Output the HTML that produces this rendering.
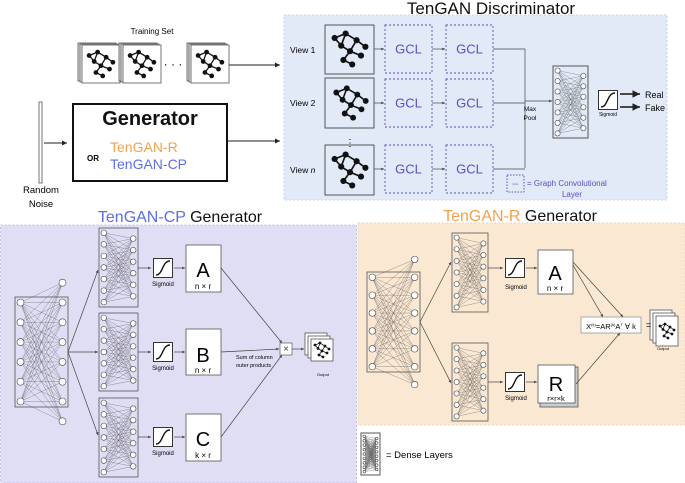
<!DOCTYPE html>
<html><head><meta charset="utf-8"><style>
body{margin:0;background:#fff}
svg{display:block;font-family:"Liberation Sans",sans-serif}
</style></head><body>
<svg id="s" width="685" height="483" viewBox="0 0 685 483" xmlns="http://www.w3.org/2000/svg">
<defs>
<marker id="ah" markerWidth="6" markerHeight="6" refX="5" refY="3" orient="auto"><path d="M0,0.5 L5,3 L0,5.5z" fill="#222"/></marker>
<marker id="ahs" markerWidth="5" markerHeight="5" refX="4" refY="2.5" orient="auto"><path d="M0,0.5 L4,2.5 L0,4.5z" fill="#444"/></marker>
<symbol id="g" viewBox="0 0 40 40">
<g stroke="#111" stroke-width="1.5" fill="none">
<path d="M6,10 L16,6 L12,17 L6,10 M16,6 L26,12 L34,18 M12,17 L20,22 L26,12 M20,22 L14,30 L22,34 M20,22 L30,26"/>
</g>
<g fill="#111"><circle cx="6" cy="10" r="2.8"/><circle cx="16" cy="6" r="2.8"/><circle cx="12" cy="17" r="2.8"/><circle cx="26" cy="12" r="2.8"/><circle cx="34" cy="18" r="2.8"/><circle cx="20" cy="22" r="2.8"/><circle cx="14" cy="30" r="2.8"/><circle cx="22" cy="34" r="2.8"/><circle cx="30" cy="26" r="2.8"/></g>
</symbol>
<symbol id="sig" viewBox="0 0 20 20"><rect x="0.5" y="0.5" width="19" height="19" fill="#fff" stroke="#333"/><path d="M3,17 C10,17 9,3 17,3" stroke="#111" stroke-width="1.4" fill="none"/></symbol>
</defs>

<rect x="284" y="15" width="383" height="185" fill="#e3eaf7" stroke="#c8d2e8" stroke-dasharray="2,2"/>
<rect x="0.5" y="225" width="356" height="258" fill="#e0def5" stroke="#c4c0e6" stroke-dasharray="2,2"/>
<rect x="358" y="223" width="327" height="202" fill="#fbe8d3" stroke="#efd6bb" stroke-dasharray="2,2"/>

<text x="491" y="14" font-size="17" text-anchor="middle" fill="#111">TenGAN Discriminator</text>
<text x="180" y="222" font-size="16" text-anchor="middle"><tspan fill="#5b6ee8">TenGAN-CP</tspan><tspan fill="#111"> Generator</tspan></text>
<text x="520" y="221" font-size="16" text-anchor="middle"><tspan fill="#f5a04c">TenGAN-R</tspan><tspan fill="#111"> Generator</tspan></text>

<text x="152" y="34" font-size="8" text-anchor="middle">Training Set</text>
<g id="cards"></g>
<text x="173" y="68" font-size="12" text-anchor="middle">· · ·</text>
<line x1="229" y1="65" x2="280" y2="65" stroke="#222" marker-end="url(#ah)"/>

<rect x="39" y="102" width="3" height="81" fill="#fff" stroke="#555" stroke-width="0.8"/>
<text x="41" y="193" font-size="9.5" text-anchor="middle">Random</text>
<text x="41" y="207" font-size="9.5" text-anchor="middle">Noise</text>
<line x1="44" y1="143" x2="67" y2="143" stroke="#222" marker-end="url(#ah)"/>
<rect x="73" y="104" width="154" height="77" fill="#fff" stroke="#111" stroke-width="2"/>
<text x="150" y="125" font-size="20" text-anchor="middle" font-weight="bold" fill="#111">Generator</text>
<text x="87" y="161" font-size="8" font-weight="bold">OR</text>
<text x="110" y="152" font-size="14" fill="#f5a04c">TenGAN-R</text>
<text x="110" y="169" font-size="14" fill="#5b6ee8">TenGAN-CP</text>
<line x1="227" y1="141" x2="280" y2="141" stroke="#222" marker-end="url(#ah)"/>

<text x="290" y="53" font-size="8.5">View 1</text>
<text x="290" y="106" font-size="8.5">View 2</text>
<text x="290" y="173" font-size="8.5">View <tspan font-style="italic">n</tspan></text>
<rect x="325" y="25" width="49" height="49" fill="#e3eaf7" stroke="#555"/>
<rect x="325" y="78" width="49" height="50" fill="#e3eaf7" stroke="#555"/>
<rect x="325" y="145" width="49" height="50" fill="#e3eaf7" stroke="#555"/>
<use href="#g" x="328" y="27" width="44" height="44"/>
<use href="#g" x="330" y="81" width="42" height="44"/>
<use href="#g" x="328" y="148" width="44" height="44"/>
<text x="350" y="146" font-size="10" text-anchor="middle">⋮</text>
<g id="gcl"></g>
<text x="530" y="111" font-size="6.5" text-anchor="middle">Max</text>
<text x="530" y="120" font-size="6.5" text-anchor="middle">Pool</text>
<rect x="553" y="66" width="35" height="72" fill="#e3eaf7" stroke="#555"/>
<g id="dn0"></g>
<use href="#sig" x="598" y="90" width="20" height="20"/>
<text x="608" y="116" font-size="5" text-anchor="middle">Sigmoid</text>
<line x1="620" y1="94" x2="640" y2="94" stroke="#111" stroke-width="1.5" marker-end="url(#ah)"/>
<line x1="620" y1="107" x2="640" y2="107" stroke="#111" stroke-width="1.5" marker-end="url(#ah)"/>
<text x="645" y="98" font-size="9">Real</text>
<text x="645" y="111" font-size="9">Fake</text>
<rect x="507" y="175" width="17" height="17" fill="none" stroke="#5a4fc4" stroke-dasharray="1.5,1.5"/>
<text x="515.5" y="185" font-size="3" fill="#5a4fc4" text-anchor="middle">GCL</text>
<text x="527" y="186" font-size="8" fill="#5a4fc4">= Graph Convolutional</text>
<text x="572" y="197" font-size="8" fill="#5a4fc4" text-anchor="middle">Layer</text>

<g id="cp"></g>
<text x="236" y="359" font-size="5.5">Sum of column</text>
<text x="236" y="367" font-size="5.5">outer products</text>
<rect x="280" y="343" width="12" height="12" fill="#fff" stroke="#444" stroke-width="0.6"/>
<text x="286" y="352" font-size="10" text-anchor="middle" fill="#444">×</text>
<text x="323" y="376" font-size="4" text-anchor="middle">Output</text>

<g id="rg"></g>
<rect x="581" y="317" width="60" height="16" fill="#fff" stroke="#777" stroke-width="0.6"/>
<text x="611" y="329" font-size="7.5" text-anchor="middle">X<tspan font-size="4" dy="-3">(k)</tspan><tspan dy="3">=AR</tspan><tspan font-size="4" dy="-3">(k)</tspan><tspan dy="3">A</tspan><tspan font-size="4" dy="-3">T</tspan><tspan dy="3"> ∀ k</tspan></text>
<text x="646" y="328" font-size="9">=</text>
<text x="663" y="350" font-size="4" text-anchor="middle">Output</text>

<rect x="361" y="433" width="19" height="42" fill="#fff" stroke="#555"/>
<g id="dnleg"></g>
<text x="386" y="458" font-size="9.5">= Dense Layers</text>

<g>
<text x="203" y="277" font-size="20" text-anchor="middle">A</text>
<text x="203" y="289" font-size="8" text-anchor="middle">n × r</text>
<text x="203" y="362" font-size="20" text-anchor="middle">B</text>
<text x="203" y="373" font-size="8" text-anchor="middle">n × r</text>
<text x="203" y="446" font-size="20" text-anchor="middle">C</text>
<text x="203" y="458" font-size="8" text-anchor="middle">k × r</text>
<text x="163" y="286" font-size="6" text-anchor="middle">Sigmoid</text>
<text x="163" y="370" font-size="6" text-anchor="middle">Sigmoid</text>
<text x="163" y="455" font-size="6" text-anchor="middle">Sigmoid</text>
<text x="555" y="280" font-size="20" text-anchor="middle">A</text>
<text x="555" y="291" font-size="8" text-anchor="middle">n × r</text>
<text x="556" y="391" font-size="20" text-anchor="middle">R</text>
<text x="556" y="401" font-size="7.5" text-anchor="middle">r×r×k</text>
<text x="516" y="289" font-size="6" text-anchor="middle">Sigmoid</text>
<text x="516" y="400" font-size="6" text-anchor="middle">Sigmoid</text>
</g>
</svg>
<script>
var NS="http://www.w3.org/2000/svg";
function el(p,t,a){var e=document.createElementNS(NS,t);for(var k in a)e.setAttribute(k,a[k]);p.appendChild(e);return e;}
function G(id){return document.getElementById(id);}
function dense(p,x,y,w,h,nl,nr,r){
  var L=[],R=[],i,j;
  for(i=0;i<nl;i++)L.push([x+r+2,y+r+2+i*(h-2*r-4)/(nl-1)]);
  var pad=(h-(h-2*r-4)*(nr-1)/(nl-1))/2;
  for(i=0;i<nr;i++)R.push([x+w-r-2,y+pad+i*(h-2*pad)/(nr-1)]);
  var d='';
  for(i=0;i<nl;i++)for(j=0;j<nr;j++)d+='M'+L[i][0]+','+L[i][1]+'L'+R[j][0]+','+R[j][1];
  el(p,'path',{d:d,stroke:'#555','stroke-width':0.3,fill:'none'});
  L.concat(R).forEach(function(c){el(p,'circle',{cx:c[0],cy:c[1],r:r,fill:'#fff',stroke:'#444','stroke-width':0.6});});
}
function line(p,x1,y1,x2,y2){el(p,'line',{x1:x1,y1:y1,x2:x2,y2:y2,stroke:'#444','stroke-width':0.7,'marker-end':'url(#ahs)'});}
function box(p,x,y,w,h,f){el(p,'rect',{x:x,y:y,width:w,height:h,fill:f||'#fff',stroke:'#555','stroke-width':0.8});}
function sig(p,x,y){el(p,'use',{href:'#sig',x:x,y:y,width:20,height:20});}
var c=G('cards');
[[78,43],[119,43],[187,43]].forEach(function(q){
  box(c,q[0],q[1],38,38,'#ddd');box(c,q[0]+2,q[1]+1,38,38,'#eee');box(c,q[0]+4,q[1]+2,38,38,'#fff');
  el(c,'use',{href:'#g',x:q[0]+6,y:q[1]+4,width:34,height:34});
});
var g=G('gcl');
[25,79,145].forEach(function(y){
  var cy=y+24;
  line(g,374,cy,384,cy);
  [385,446].forEach(function(x){
    el(g,'rect',{x:x,y:y,width:47,height:48,fill:'none',stroke:'#5a4fc4','stroke-dasharray':'2,2','stroke-width':0.9});
    var t=el(g,'text',{x:x+23.5,y:cy+4.5,'font-size':13,'text-anchor':'middle',fill:'#5a4fc4'});t.textContent='GCL';
  });
  line(g,432,cy,445,cy);
  el(g,'path',{d:'M493,'+cy+'H525',stroke:'#444','stroke-width':0.7,fill:'none'});
});
el(g,'path',{d:'M525,49V168',stroke:'#444','stroke-width':0.7});
line(g,525,101,552,101);
dense(G('dn0'),553,66,35,72,7,6,2.6);
var cp=G('cp');
box(cp,15,297,53,110,'none');dense(cp,15,297,53,110,6,8,3.5);
[[228,307,268],[313,391,352],[398,477,437]].forEach(function(b,i){
  box(cp,99,b[0],39,b[1]-b[0],'none');dense(cp,99,b[0],39,b[1]-b[0],7,6,2.8);
  line(cp,68,352,98,i==0?270:(i==1?352:435));
  line(cp,138,b[2],151,b[2]);sig(cp,153,b[2]-10);line(cp,174,b[2],185,b[2]);
});
box(cp,186,245,35,47);box(cp,186,329,35,46);box(cp,186,414,35,47);
line(cp,221,268,282,343);line(cp,221,352,279,349);line(cp,221,437,282,355);
line(cp,292,349,304,349);
box(cp,305,333,22,22);box(cp,308,336,22,22);box(cp,311,339,22,22);
el(cp,'use',{href:'#g',x:312,y:340,width:20,height:20});
var r=G('rg');
box(r,367,272,53,100,'none');dense(r,367,272,53,100,6,8,3.3);
[[233,312,268],[343,421,382]].forEach(function(b,i){
  box(r,452,b[0],36,b[1]-b[0],'none');dense(r,452,b[0],36,b[1]-b[0],7,6,2.6);
  line(r,420,322,451,i?383:262);
  line(r,488,b[2],503,b[2]);sig(r,505,b[2]-10);line(r,526,b[2],537,b[2]);
});
box(r,538,250,35,44);
box(r,540,367,38,40,'#ccc');box(r,538,365,37,38);
line(r,573,265,603,317);line(r,573,262,623,317);line(r,576,384,620,333);
box(r,650,310,22,30);box(r,653,313,22,30);box(r,656,316,22,30);
el(r,'use',{href:'#g',x:657,y:320,width:20,height:22});
dense(G('dnleg'),361,433,19,42,9,8,1.3);
</script>
</body></html>
